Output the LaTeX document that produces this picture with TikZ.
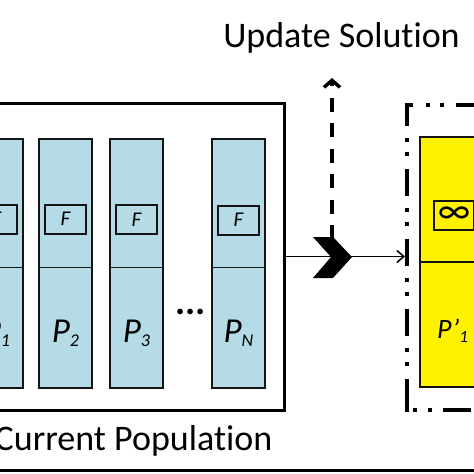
\documentclass[tikz,border=0pt]{standalone}
\usepackage{fontspec}
\setmainfont{Carlito}[Ligatures=CommonOff]
\usetikzlibrary{arrows.meta}
\definecolor{colblue}{RGB}{180,219,230}
\definecolor{edge}{RGB}{20,20,20}
\newcommand\lsub[1]{\raisebox{-4pt}{\fontsize{18}{18}\selectfont #1}}
\newcommand\lsubb[1]{\raisebox{-4pt}{\fontsize{17}{17}\selectfont #1}}
\begin{document}
\begin{tikzpicture}[x=1pt,y=-1pt,
  indiv/.style={draw=edge, line width=2pt, fill=colblue, minimum width=53pt, minimum height=249pt, inner sep=0pt},
  fitbox/.style={draw=edge, line width=2pt, minimum width=41pt, minimum height=29pt, inner sep=0pt, font=\itshape\fontsize{21}{21}\selectfont},
  plabel/.style={anchor=base, inner sep=0pt, font=\itshape\fontsize{35}{35}\selectfont},
  title/.style={anchor=base, inner sep=0pt, font=\fontsize{36}{36}\selectfont},
  divider/.style={draw=edge, line width=1.5pt},
  selborder/.style={line width=3.5pt}
]
\useasboundingbox (0,0) rectangle (474,474);
\fill[white] (0,0) rectangle (474,474);

% current population box
\node[draw=black, line width=3pt, minimum width=304pt, minimum height=307pt, inner sep=0pt] (pop) at (132,256.5) {};

% blue individuals
\node[indiv] (c1) at (-3.5,263.5) {};
\node[indiv] (c2) at (65.5,263.5) {};
\node[indiv] (c3) at (136.5,263.5) {};
\node[indiv] (cN) at (238.5,263.5) {};
\foreach \c in {c1,c2,c3,cN}{
  \draw[divider] ([yshift=-129.5pt]\c.north west) -- ([yshift=-129.5pt]\c.north east);
}
\node[fitbox] (f1) at (-3.5,219) {F};
\node[fitbox] (f2) at (65.5,219) {F};
\node[fitbox] (f3) at (136.5,219.5) {F};
\node[fitbox] (fN) at (238.5,220) {F};
\node[plabel] (l1) at (-3.5,342) {P\lsub{1}};
\node[plabel] (l2) at (65.5,342) {P\lsub{2}};
\node[plabel] (l3) at (136.5,342) {P\lsub{3}};
\node[plabel] (lN) at (238.5,342) {P\lsub{N}};
\node[anchor=base, inner sep=0pt, font=\bfseries\fontsize{38}{38}\selectfont] (dots) at (190.5,314) {...};

% selected population (dash-dot box)
\coordinate (selTL) at (407,105);
\coordinate (selBL) at (407,410);
\coordinate (selin) at (405,256.5);
\draw[selborder, dash pattern=on 27pt off 12pt on 4pt off 10pt on 4pt off 13pt] (483,105) -- (selTL) -- (selBL);
\draw[selborder, dash pattern=on 6.75pt off 4pt on 4pt off 11pt on 4pt off 11pt on 28pt off 20pt] (407,405) -- (selBL) -- (490,410);

% yellow individual
\node[draw=edge, line width=2pt, fill=yellow, minimum width=68pt, minimum height=250pt, inner sep=0pt] (y1) at (454,262) {};
\draw[divider] ([yshift=-126pt]y1.north west) -- ([yshift=-126pt]y1.north east);
\node[fitbox, minimum width=40pt] (inf) at (454,215.5) {\raisebox{-2pt}{\upshape\fontsize{38}{38}\selectfont ∞}};
\node[plabel, font=\itshape\fontsize{28}{28}\selectfont] (ly) at (452.5,338) {P’\lsubb{1}};

% connector
\draw[line width=1.5pt, -{Straight Barb[length=7pt,width=12pt]}] (pop.east) -- (selin);

% chevron and update arrow
\coordinate (chevtop) at (332,239);
\coordinate (updtip) at (332,78);
\fill[black] (313,237) -- (333,237) -- (352,257) -- (333,278) -- (313,278) -- (331,257) -- cycle;
\draw[line width=3.5pt, dash pattern=on 14pt off 11.5pt, -{Straight Barb[length=7pt,width=16pt]}] (chevtop) -- (updtip);

% texts
\node[title] (upd) at (341.5,47) {Update Solution};
\node[title] (cur) at (133.5,450) {Current Population};

% bottom rule
\coordinate (ruleL) at (-5,470);
\coordinate (ruleR) at (480,470);
\draw[line width=3pt] (ruleL) -- (ruleR);
\end{tikzpicture}
\end{document}
